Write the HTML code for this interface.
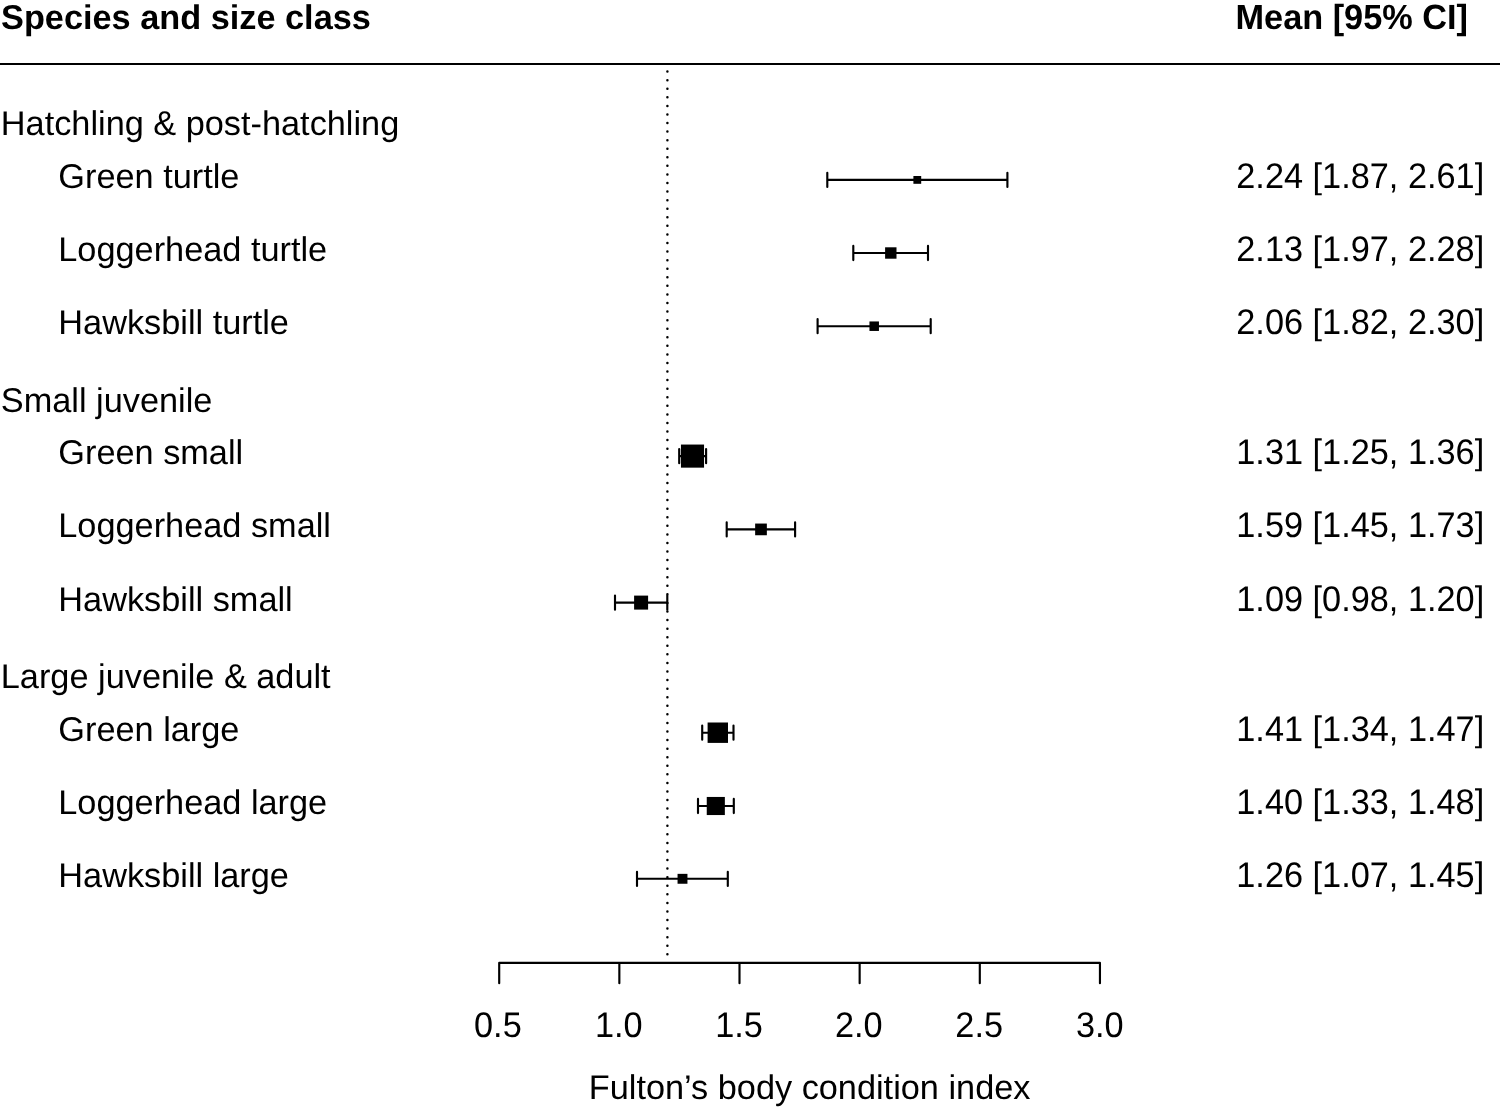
<!DOCTYPE html>
<html><head><meta charset="utf-8"><title>Forest plot</title>
<style>
html,body{margin:0;padding:0;background:#fff;}
body{width:1500px;height:1110px;overflow:hidden;}
svg{display:block;}
text{text-rendering:geometricPrecision;font-family:"Liberation Sans",Arial,Helvetica,sans-serif;font-size:34.3px;fill:#000;}
.b{font-weight:bold;}
</style></head><body>
<svg width="1500" height="1110" viewBox="0 0 1500 1110">
<rect width="1500" height="1110" fill="#fff"/>
<text class="b" x="1.00" y="29.30">Species and size class</text>
<text class="b" x="1468.00" y="29.10" text-anchor="end" transform="matrix(1 0 0 1.0200 0 -0.582)">Mean [95% CI]</text>
<line x1="0" y1="64.00" x2="1500" y2="64.00" stroke="#000" stroke-width="2.14"/>
<line x1="667.40" y1="71.60" x2="667.40" y2="955.00" stroke="#000" stroke-width="2.5" stroke-linecap="round" stroke-dasharray="0 8.570"/>
<text x="0.80" y="134.80">Hatchling &amp; post-hatchling</text>
<text x="0.80" y="411.50">Small juvenile</text>
<text x="0.80" y="687.80">Large juvenile &amp; adult</text>
<text x="58.30" y="187.90">Green turtle</text>
<text x="1484.20" y="187.90" text-anchor="end" transform="matrix(1 0 0 1.0350 0 -6.576)">2.24 [1.87, 2.61]</text>
<rect x="913.40" y="176.00" width="7.80" height="7.80" fill="#000"/>
<text x="58.30" y="261.00">Loggerhead turtle</text>
<text x="1484.20" y="261.00" text-anchor="end" transform="matrix(1 0 0 1.0350 0 -9.135)">2.13 [1.97, 2.28]</text>
<rect x="885.10" y="247.30" width="11.40" height="11.40" fill="#000"/>
<text x="58.30" y="334.20">Hawksbill turtle</text>
<text x="1484.20" y="334.20" text-anchor="end" transform="matrix(1 0 0 1.0350 0 -11.697)">2.06 [1.82, 2.30]</text>
<rect x="869.45" y="321.45" width="9.50" height="9.50" fill="#000"/>
<text x="58.30" y="464.10">Green small</text>
<text x="1484.20" y="464.10" text-anchor="end" transform="matrix(1 0 0 1.0350 0 -16.243)">1.31 [1.25, 1.36]</text>
<rect x="680.95" y="444.55" width="23.10" height="23.10" fill="#000"/>
<text x="58.30" y="537.40">Loggerhead small</text>
<text x="1484.20" y="537.40" text-anchor="end" transform="matrix(1 0 0 1.0350 0 -18.809)">1.59 [1.45, 1.73]</text>
<rect x="755.15" y="523.55" width="11.70" height="11.70" fill="#000"/>
<text x="58.30" y="610.60">Hawksbill small</text>
<text x="1484.20" y="610.60" text-anchor="end" transform="matrix(1 0 0 1.0350 0 -21.371)">1.09 [0.98, 1.20]</text>
<rect x="634.10" y="595.60" width="14.00" height="14.00" fill="#000"/>
<text x="58.30" y="740.70">Green large</text>
<text x="1484.20" y="740.70" text-anchor="end" transform="matrix(1 0 0 1.0350 0 -25.924)">1.41 [1.34, 1.47]</text>
<rect x="707.60" y="722.50" width="20.40" height="20.40" fill="#000"/>
<text x="58.30" y="814.00">Loggerhead large</text>
<text x="1484.20" y="814.00" text-anchor="end" transform="matrix(1 0 0 1.0350 0 -28.490)">1.40 [1.33, 1.48]</text>
<rect x="706.75" y="796.95" width="18.10" height="18.10" fill="#000"/>
<text x="58.30" y="886.80">Hawksbill large</text>
<text x="1484.20" y="886.80" text-anchor="end" transform="matrix(1 0 0 1.0350 0 -31.038)">1.26 [1.07, 1.45]</text>
<rect x="677.55" y="873.85" width="9.90" height="9.90" fill="#000"/>
<path d="M827.30 179.90H1007.40M827.30 172.80V187.00M1007.40 172.80V187.00M853.30 253.00H928.00M853.30 245.90V260.10M928.00 245.90V260.10M817.60 326.20H930.70M817.60 319.10V333.30M930.70 319.10V333.30M679.20 456.10H706.10M679.20 449.00V463.20M706.10 449.00V463.20M726.70 529.40H795.10M726.70 522.30V536.50M795.10 522.30V536.50M615.00 602.60H667.30M615.00 595.50V609.70M667.30 595.50V609.70M702.20 732.70H733.50M702.20 725.60V739.80M733.50 725.60V739.80M698.00 806.00H733.80M698.00 798.90V813.10M733.80 798.90V813.10M637.00 878.80H727.80M637.00 871.70V885.90M727.80 871.70V885.90" fill="none" stroke="#000" stroke-width="2.14" stroke-linecap="round"/>
<path d="M499.20 962.90H1099.95M499.20 962.90V983.20M619.35 962.90V983.20M739.50 962.90V983.20M859.65 962.90V983.20M979.80 962.90V983.20M1099.95 962.90V983.20" fill="none" stroke="#000" stroke-width="2.14" stroke-linecap="round" stroke-linejoin="round"/>
<text x="497.90" y="1036.60" text-anchor="middle" transform="matrix(1 0 0 1.0350 0 -36.281)">0.5</text>
<text x="618.85" y="1036.60" text-anchor="middle" transform="matrix(1 0 0 1.0350 0 -36.281)">1.0</text>
<text x="739.00" y="1036.60" text-anchor="middle" transform="matrix(1 0 0 1.0350 0 -36.281)">1.5</text>
<text x="858.75" y="1036.60" text-anchor="middle" transform="matrix(1 0 0 1.0350 0 -36.281)">2.0</text>
<text x="979.20" y="1036.60" text-anchor="middle" transform="matrix(1 0 0 1.0350 0 -36.281)">2.5</text>
<text x="1099.75" y="1036.60" text-anchor="middle" transform="matrix(1 0 0 1.0350 0 -36.281)">3.0</text>
<text x="809.60" y="1098.50" text-anchor="middle">Fulton’s body condition index</text>
</svg>
</body></html>
